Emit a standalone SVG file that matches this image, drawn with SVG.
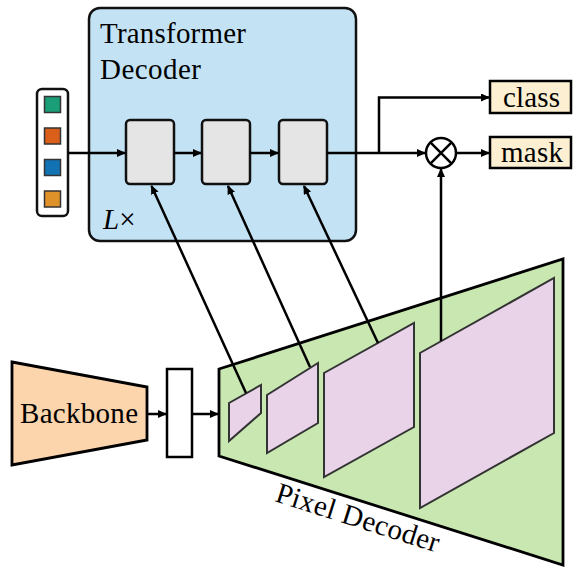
<svg xmlns="http://www.w3.org/2000/svg" width="582" height="572" viewBox="0 0 582 572">
<style>
.blk{fill:#e5e5e5;stroke:#111;stroke-width:2.5}
.pink{fill:#e8d3e8;stroke:#333;stroke-width:2}
.ln{fill:none;stroke:#000;stroke-width:2.5}
.out{fill:#fdf0d2;stroke:#000;stroke-width:2.5}
.sq{stroke:#333;stroke-width:1.5}
</style>
<defs>
<marker id="ah" markerUnits="userSpaceOnUse" markerWidth="10" markerHeight="9" refX="8" refY="4" orient="auto">
<path d="M0,0 L9,4 L0,8 z" fill="#000"/>
</marker>
</defs>
<rect width="582" height="572" fill="#fff"/>
<g font-family="Liberation Serif, DejaVu Serif, serif" font-size="29" fill="#000">
<g id="transformer-decoder">
<rect x="89" y="8" width="267" height="233" rx="11" fill="#c3e3f5" stroke="#111" stroke-width="2.5"/>
<text x="100" y="43" textLength="146">Transformer</text>
<text x="100" y="79" textLength="101">Decoder</text>
<text x="103" y="229"><tspan font-style="italic">L</tspan>×</text>
</g>
<g id="queries">
<rect x="37" y="89" width="31" height="127" rx="5" fill="#fff" stroke="#111" stroke-width="2.5"/>
<rect class="sq" x="44.5" y="96.5" width="16" height="16" fill="#1a9e77"/>
<rect class="sq" x="44.5" y="128" width="16" height="16" fill="#d95f1b"/>
<rect class="sq" x="44.5" y="159.5" width="16" height="16" fill="#1273b4"/>
<rect class="sq" x="44.5" y="191" width="16" height="16" fill="#e0922a"/>
</g>
<g id="layer1"><rect class="blk" x="126" y="120" width="48" height="64" rx="4"/></g>
<g id="layer2"><rect class="blk" x="202" y="120" width="48" height="64" rx="4"/></g>
<g id="layer3"><rect class="blk" x="279" y="120" width="48" height="64" rx="4"/></g>
<g id="class">
<rect class="out" x="490" y="81" width="81" height="32"/>
<text x="503" y="107" textLength="57">class</text>
</g>
<g id="mask">
<rect class="out" x="490" y="137" width="81" height="31"/>
<text x="501" y="162" textLength="62">mask</text>
</g>
<g id="multiply">
<circle cx="441" cy="153" r="15" fill="#fff" stroke="#000" stroke-width="2.5"/>
<path d="M430.4,142.4 L451.6,163.6 M451.6,142.4 L430.4,163.6" stroke="#000" stroke-width="2.5"/>
</g>
<g id="backbone">
<path d="M12,362 L147,387 L147,440 L12,465 Z" fill="#fcd5ac" stroke="#000" stroke-width="2.8"/>
<text x="20" y="423" textLength="118">Backbone</text>
</g>
<g id="feature">
<rect x="167" y="369" width="25" height="88" fill="#fff" stroke="#000" stroke-width="2.5"/>
</g>
<g id="pixel-decoder">
<path d="M219,369 L563,259 L563,565 L219,456 Z" fill="#c9e8b1" stroke="#000" stroke-width="2.8"/>
<path class="pink" d="M229,403 L261,385 L261,413 L229,441 Z"/>
<path class="pink" d="M267,395 L318,363 L318,423 L267,453 Z"/>
<path class="pink" d="M324,373 L414,323 L414,427 L324,477 Z"/>
<path class="pink" d="M420,353 L554,278 L554,433 L420,508 Z"/>
<text transform="translate(274,501) rotate(17.6)" textLength="170">Pixel Decoder</text>
</g>
</g>
<g id="connectors" class="ln">
<line x1="68" y1="153" x2="125" y2="153" marker-end="url(#ah)"/>
<line x1="174" y1="153" x2="201" y2="153" marker-end="url(#ah)"/>
<line x1="250" y1="153" x2="278" y2="153" marker-end="url(#ah)"/>
<line x1="327" y1="153" x2="425" y2="153" marker-end="url(#ah)"/>
<polyline points="379,153 379,97.5 489,97.5" marker-end="url(#ah)"/>
<line x1="456" y1="153" x2="489" y2="153" marker-end="url(#ah)"/>
<line x1="441" y1="341" x2="441" y2="169" marker-end="url(#ah)"/>
<line x1="246" y1="393" x2="151.5" y2="186" marker-end="url(#ah)"/>
<line x1="310" y1="367" x2="228" y2="186" marker-end="url(#ah)"/>
<line x1="378" y1="343" x2="304" y2="186" marker-end="url(#ah)"/>
<line x1="147" y1="414" x2="166" y2="414" marker-end="url(#ah)"/>
<line x1="192" y1="414" x2="218" y2="414" marker-end="url(#ah)"/>
</g>
</svg>
